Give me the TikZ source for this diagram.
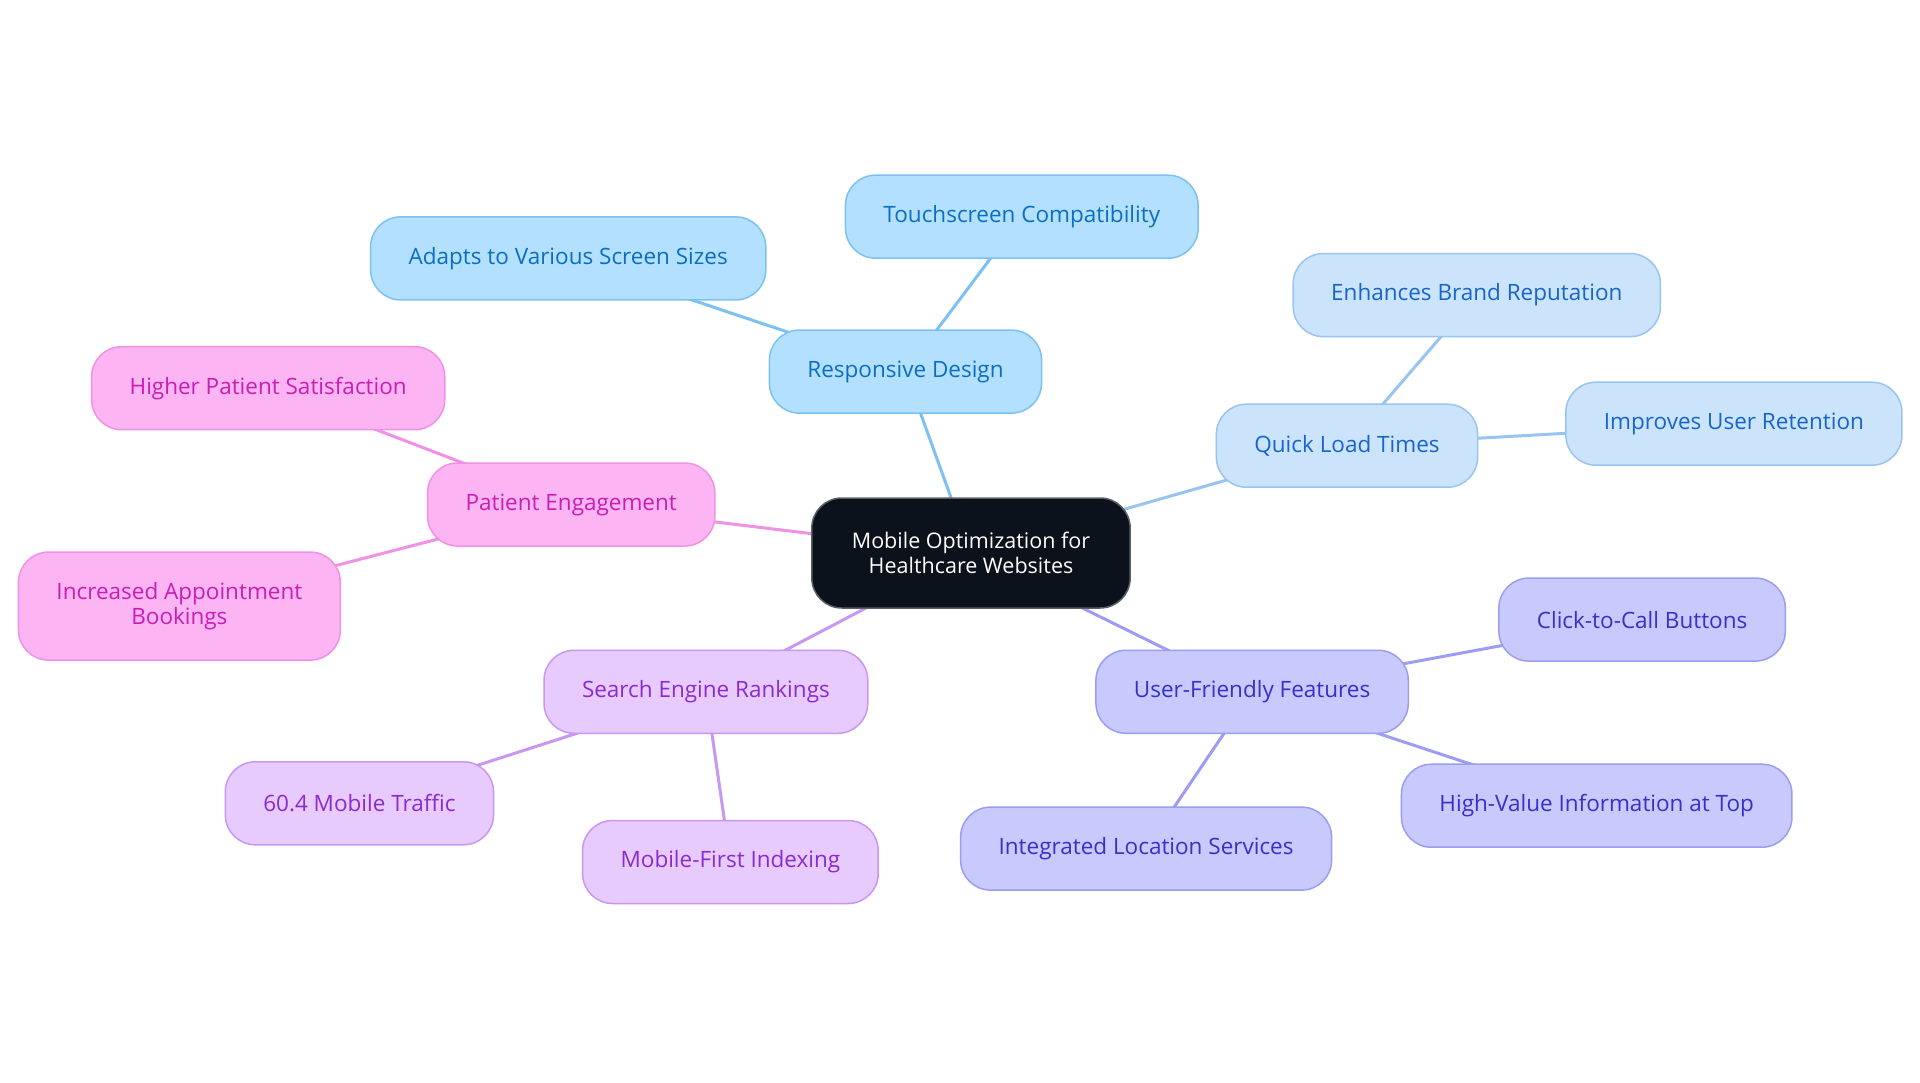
\documentclass[tikz,border=0pt]{standalone}
\usepackage{fontspec}
\setmainfont{Open Sans}
\usetikzlibrary{backgrounds}

\definecolor{rootfill}{HTML}{0C121C}
\definecolor{rootline}{HTML}{5A5F66}
\definecolor{bluefill}{HTML}{B3E0FE}
\definecolor{blueline}{HTML}{7DC1F2}
\definecolor{bluetext}{HTML}{0B6FC1}
\definecolor{skyfill}{HTML}{CCE4FB}
\definecolor{skyline}{HTML}{98C4F1}
\definecolor{skytext}{HTML}{1565CC}
\definecolor{pinkfill}{HTML}{FCB4F3}
\definecolor{pinkline}{HTML}{F091E6}
\definecolor{pinktext}{HTML}{C81EB4}
\definecolor{lilacfill}{HTML}{E8CBFE}
\definecolor{lilacline}{HTML}{C897F2}
\definecolor{lilactext}{HTML}{8A2BD0}
\definecolor{perifill}{HTML}{C8C9FD}
\definecolor{periline}{HTML}{9C9DF2}
\definecolor{peritext}{HTML}{3730C9}

\begin{document}
\begin{tikzpicture}[x=1pt, y=-1pt,
    topic/.style={rectangle, rounded corners=30pt, line width=1.5pt, inner xsep=38pt, inner ysep=0pt,
      minimum height=83pt, align=center, font=\fontsize{22.5}{25}\selectfont},
    root/.style={topic, fill=rootfill, draw=rootline, text=white, minimum height=110pt, inner xsep=40pt,
      font=\fontsize{21.5}{25}\selectfont},
    blue/.style={topic, fill=bluefill, draw=blueline, text=bluetext},
    sky/.style={topic, fill=skyfill, draw=skyline, text=skytext},
    pink/.style={topic, fill=pinkfill, draw=pinkline, text=pinktext},
    lilac/.style={topic, fill=lilacfill, draw=lilacline, text=lilactext},
    peri/.style={topic, fill=perifill, draw=periline, text=peritext},
    link/.style={line width=3pt}]

  \useasboundingbox (0,0) rectangle (1920,1083);

  \node[root] (mobile) at (971,553) {Mobile Optimization for\\Healthcare Websites};

  \node[blue] (responsive) at (905.5,371.6) {Responsive Design};
  \node[blue] (touch) at (1021.8,216.7) {Touchscreen Compatibility};
  \node[blue] (adapts) at (568.2,258.4) {Adapts to Various Screen Sizes};

  \node[sky] (quick) at (1347,445.7) {Quick Load Times};
  \node[sky] (brand) at (1476.8,295.1) {Enhances Brand Reputation};
  \node[sky] (retention) at (1733.9,423.7) {Improves User Retention};

  \node[pink] (engage) at (571.2,504.5) {Patient Engagement};
  \node[pink] (satisfy) at (268.2,388.2) {Higher Patient Satisfaction};
  \node[pink, minimum height=108pt] (booking) at (179.4,606.1) {Increased Appointment\\Bookings};

  \node[lilac] (search) at (705.9,691.8) {Search Engine Rankings};
  \node[lilac] (traffic) at (359.4,803.3) {60.4 Mobile Traffic};
  \node[lilac] (indexing) at (730.4,862) {Mobile-First Indexing};

  \node[peri] (friendly) at (1252.1,691.8) {User-Friendly Features};
  \node[peri] (call) at (1642.1,619.6) {Click-to-Call Buttons};
  \node[peri] (highvalue) at (1596.7,805.7) {High-Value Information at Top};
  \node[peri] (location) at (1146.1,848.6) {Integrated Location Services};

  \begin{scope}[on background layer]
    \draw[link, blueline] (mobile.center) -- (responsive.center);
    \draw[link, blueline] (responsive.center) -- (touch.center);
    \draw[link, blueline] (responsive.center) -- (adapts.center);
    \draw[link, skyline] (mobile.center) -- (quick.center);
    \draw[link, skyline] (quick.center) -- (brand.center);
    \draw[link, skyline] (quick.center) -- (retention.center);
    \draw[link, pinkline] (mobile.center) -- (engage.center);
    \draw[link, pinkline] (engage.center) -- (satisfy.center);
    \draw[link, pinkline] (engage.center) -- (booking.center);
    \draw[link, lilacline] (mobile.center) -- (search.center);
    \draw[link, lilacline] (search.center) -- (traffic.center);
    \draw[link, lilacline] (search.center) -- (indexing.center);
    \draw[link, periline] (mobile.center) -- (friendly.center);
    \draw[link, periline] (friendly.center) -- (call.center);
    \draw[link, periline] (friendly.center) -- (highvalue.center);
    \draw[link, periline] (friendly.center) -- (location.center);
  \end{scope}

\end{tikzpicture}
\end{document}
